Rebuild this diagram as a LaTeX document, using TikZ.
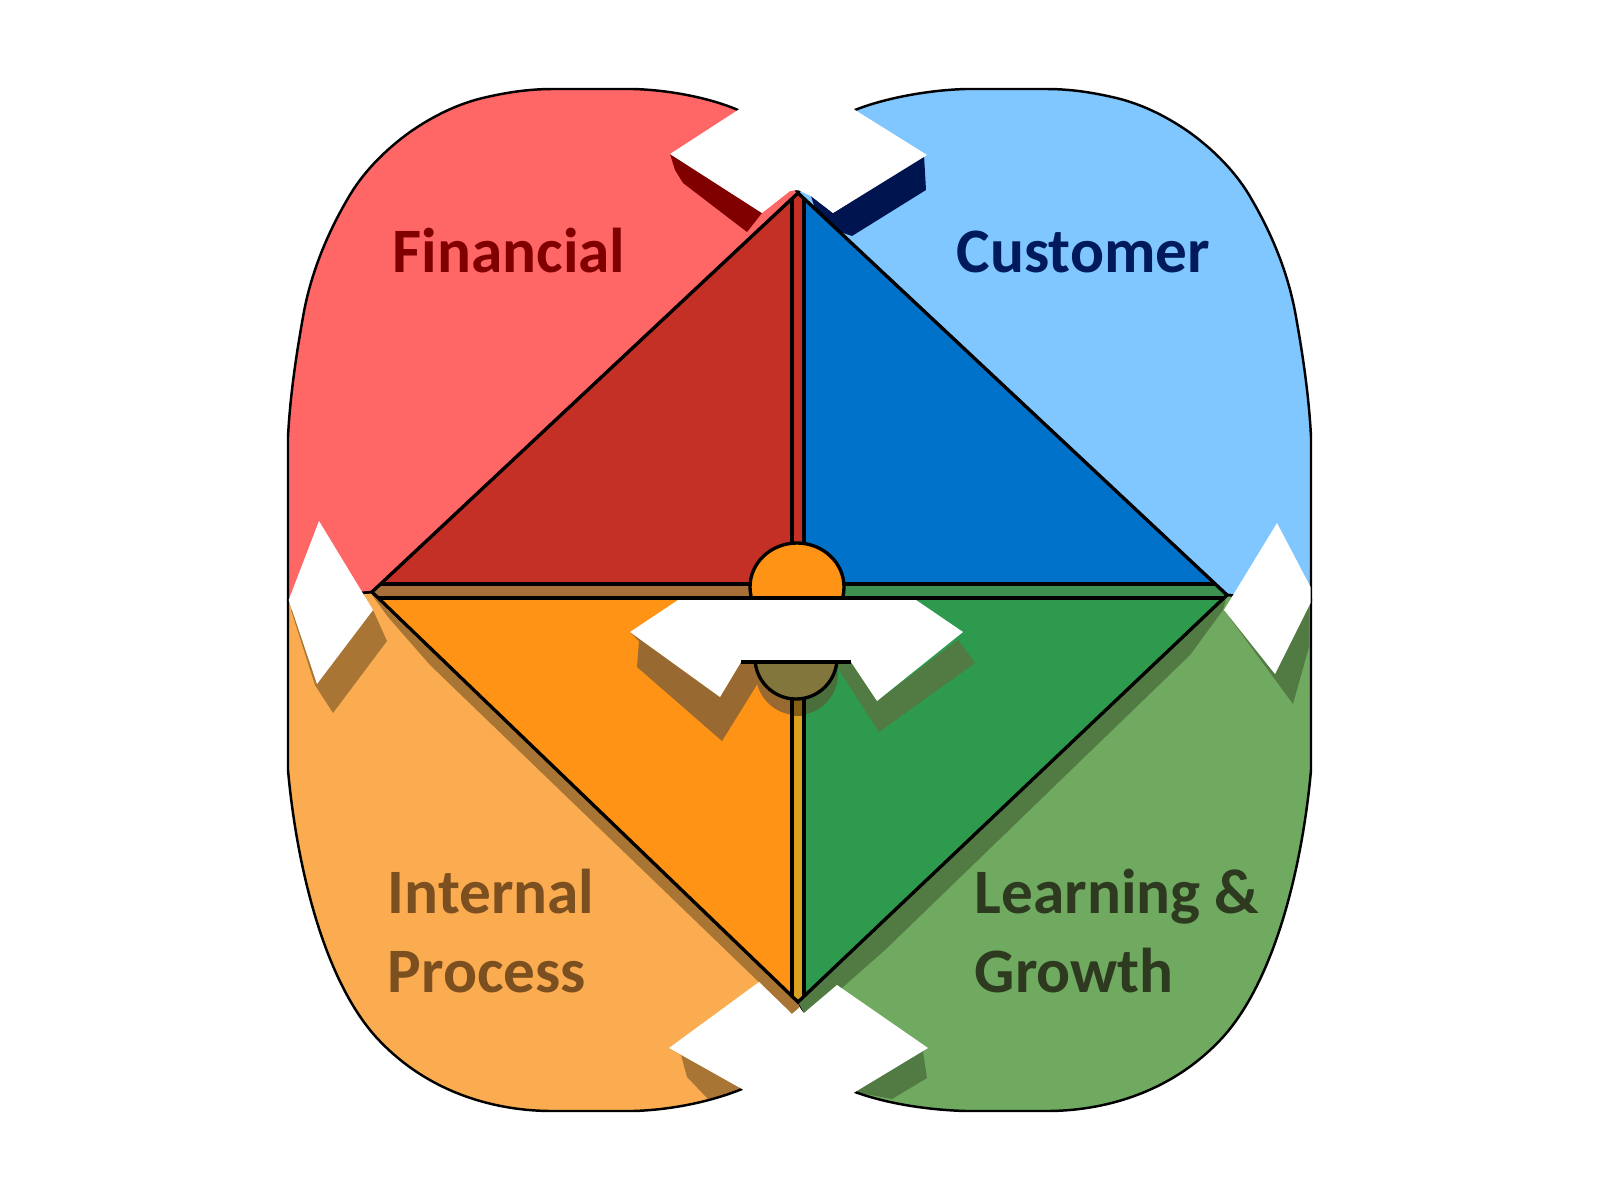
\documentclass[tikz,border=0pt]{standalone}
\usepackage{fontspec}
\setmainfont{Carlito}
\definecolor{red_light}{HTML}{FF6666}
\definecolor{red_dark}{HTML}{C43025}
\definecolor{red_shadow}{HTML}{800000}
\definecolor{red_text}{HTML}{800000}
\definecolor{blue_light}{HTML}{80C6FF}
\definecolor{blue_dark}{HTML}{0072C9}
\definecolor{blue_shadow}{HTML}{001450}
\definecolor{blue_text}{HTML}{001A5C}
\definecolor{orange_light}{HTML}{FBAC50}
\definecolor{orange_dark}{HTML}{FF9315}
\definecolor{orange_shadow}{HTML}{A97535}
\definecolor{orange_text}{HTML}{7B4F1F}
\definecolor{green_light}{HTML}{70A960}
\definecolor{green_dark}{HTML}{2D9A4E}
\definecolor{green_shadow}{HTML}{527A43}
\definecolor{green_text}{HTML}{2D3A20}
\definecolor{bar_left}{HTML}{A87038}
\definecolor{bar_right}{HTML}{3D9050}
\definecolor{bar_bottom}{HTML}{DAA020}
\definecolor{half_circle}{HTML}{82763C}
\def\redblob{(288,600) -- (288,437) .. controls (290,397) and (296,356) .. (303,317) .. controls (310,276) and (326,236) .. (347,200) .. controls (362,173) and (385,150) .. (410,132) .. controls (433,116) and (459,103) .. (487,97) .. controls (509,92) and (530,89) .. (553,89) -- (633,89) .. controls (670,90) and (710,98) .. (738,110) -- (798,193) -- (372,592) -- cycle}
\def\blueblob{(1311,600) -- (1311,437) .. controls (1309,397) and (1303,356) .. (1296,317) .. controls (1289,276) and (1273,236) .. (1252,200) .. controls (1237,173) and (1214,150) .. (1189,132) .. controls (1166,116) and (1140,103) .. (1112,97) .. controls (1090,92) and (1069,89) .. (1046,89) -- (966,89) .. controls (929,90) and (885,98) .. (855,110) -- (798,193) -- (1227,595) -- cycle}
\def\orangeblob{(288,600) -- (288,770) .. controls (296,860) and (322,977) .. (376,1037) .. controls (429,1095) and (499,1111) .. (552,1111) -- (633,1111) .. controls (670,1110) and (710,1102) .. (742,1089) -- (798,1002) -- (372,592) -- cycle}
\def\greenblob{(1311,600) -- (1311,770) .. controls (1303,860) and (1277,977) .. (1223,1037) .. controls (1170,1095) and (1100,1111) .. (1047,1111) -- (966,1111) .. controls (929,1110) and (888,1104) .. (855,1092) -- (798,1002) -- (1227,595) -- cycle}
\begin{document}
\begin{tikzpicture}
        [x=0.01cm,y=-0.01cm,
         blob_line/.style={draw=black,line width=0.7pt},
         diamond_line/.style={draw=black,line width=0.95pt},
         cut_out/.style={fill=white},
         label_style/.style={font=\fontsize{18}{22.2}\selectfont\bfseries,anchor=base west,inner sep=0pt},
         block_style/.style={label_style,align=left,anchor=west}]
            \useasboundingbox (0,0) rectangle (1600,1200);
            % the four outer shapes
            \fill[red_light] \redblob;
            \fill[blue_light] \blueblob;
            \fill[orange_light] \orangeblob;
            \fill[green_light] \greenblob;
            % shadows on the outer shapes
            \fill[red_shadow] (670,154) -- (675,170) -- (683,183) -- (747,232) -- (762,213) -- cycle;
            \fill[blue_shadow] (811,196) -- (833,213) -- (924,155) -- (926,190) -- (852,236) -- (820,225) -- cycle;
            \fill[orange_shadow] (373,610) -- (387,641) -- (333,713) -- (315,685) -- (291,610) -- cycle;
            \fill[orange_shadow] (669,1048) -- (681,1055) -- (687,1077) -- (708,1099) -- (744,1089) -- cycle;
            \fill[green_shadow] (1224,610) -- (1293,704) -- (1309,647) -- (1309,605) -- cycle;
            \fill[green_shadow] (855,1092) -- (924,1048) -- (923,1052) -- (927,1078) -- (892,1099) -- cycle;
            \draw[blob_line] \redblob;
            \draw[blob_line] \blueblob;
            \draw[blob_line] \orangeblob;
            \draw[blob_line] \greenblob;
            % shadows along the lower edges
            \fill[orange_shadow] (372,595) -- (388,617) -- (430,665) -- (792,1014) -- (799,1008) -- (798,1002) -- cycle;
            \fill[green_shadow] (1227,595) -- (1223,610) -- (1190,655) -- (885,950) -- (843,987) -- (804,1013) -- (798,1002) -- cycle;
            % inner triangles and bars
            \fill[red_dark] (372,592) -- (798,193) -- (804,199) -- (804,584) -- (380,584) -- cycle;
            \fill[blue_dark] (798,193) -- (1227,595) -- (1215,584) -- (804,584) -- (804,199) -- cycle;
            \fill[bar_left] (372,592) -- (380,584) -- (797,584) -- (797,598) -- (378,598) -- cycle;
            \fill[bar_right] (1227,595) -- (1215,584) -- (797,584) -- (797,598) -- (1224,598) -- cycle;
            \fill[orange_dark] (378,598) -- (792,598) -- (792,996) -- cycle;
            \fill[green_dark] (1224,598) -- (804,598) -- (804,996) -- cycle;
            \fill[bar_bottom] (792,598) -- (804,598) -- (804,996) -- (798,1002) -- (792,996) -- cycle;
            % shadow of the middle arrow
            \fill[orange_shadow!90!black] (630,632) -- (639,641) -- (637,667) -- (722,741) -- (758,683) -- (760,662) -- (741,662) -- (720,697) -- cycle;
            \fill[green_shadow] (851,662) -- (877,701) -- (958,640) -- (975,663) -- (879,732) -- (837,667) -- (830,662) -- cycle;
            \begin{scope}
                \clip (700,640) rectangle (798,730);
                \fill[orange_shadow!90!black] (797,674) circle (41);
            \end{scope}
            \begin{scope}
                \clip (798,640) rectangle (900,730);
                \fill[green_shadow!90!black] (797,674) circle (41);
            \end{scope}
            \fill[bar_bottom!60!black] (792,690) rectangle (804,716);
            % bar lines
            \draw[diamond_line] (380,584) -- (1215,584);
            \draw[diamond_line] (378,598) -- (1224,598);
            \draw[diamond_line] (792,199) -- (792,584);
            \draw[diamond_line] (804,199) -- (804,584);
            \draw[diamond_line] (792,662) -- (792,996);
            \draw[diamond_line] (804,662) -- (804,996);
            \draw[diamond_line] (798,193) -- (1227,595) -- (798,1002) -- (372,592) -- cycle;
            % upper half circle
            \begin{scope}
                \clip (700,500) rectangle (900,598);
                \fill[orange_dark] (797,587) ellipse [x radius=47, y radius=44];
                \draw[diamond_line] (797,587) ellipse [x radius=47, y radius=44];
            \end{scope}
            \draw[diamond_line] (750,598) -- (844,598);
            % white arrows over everything
            \fill[cut_out] (738,110) -- (670,154) -- (762,213) -- (790,191) -- (798,190) -- (811,196) -- (833,213) -- (927,155) -- (855,110) -- (800,60) -- cycle;
            \fill[cut_out] (742,1089) -- (669,1048) -- (759,982) -- (792,1014) -- (799,1008) -- (804,1013) -- (837,985) -- (928,1048) -- (855,1092) -- (800,1130) -- cycle;
            \fill[cut_out] (319,521) -- (373,610) -- (317,684) -- (288.7,600) -- cycle;
            \fill[cut_out] (1277,523) -- (1310.5,587) -- (1310.5,603) -- (1275,674) -- (1224,610) -- cycle;
            \fill[cut_out] (678,600) -- (916,600) -- (963,632) -- (877,701) -- (851,662) -- (741,662) -- (720,697) -- (630,632) -- cycle;
            % lower half circle
            \begin{scope}
                \clip (700,662) rectangle (900,720);
                \fill[half_circle] (796,658) circle (41);
                \draw[diamond_line] (796,658) circle (41);
            \end{scope}
            \draw[diamond_line] (741,662) -- (851,662);
            % labels
            \node[label_style,text=red_text] (financial) at (392, 272) {Financial};
            \node[label_style,text=blue_text] (customer) at (956, 272) {Customer};
            \node[block_style,text=orange_text] (internal) at (387, 931) {Internal\\Process};
            \node[block_style,text=green_text] (learning) at (974, 931) {Learning \&\\Growth};
        \end{tikzpicture}
\end{document}
